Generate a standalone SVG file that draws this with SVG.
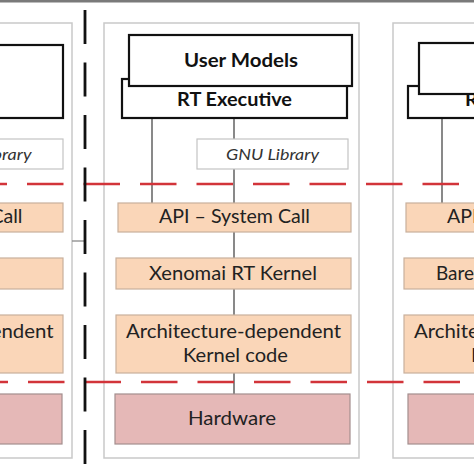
<svg xmlns="http://www.w3.org/2000/svg" width="474" height="474" viewBox="0 0 474 474">
<style>
.panel{fill:#fff;stroke:#c9c9c9;stroke-width:1.5}
.thick{fill:#fff;stroke:#111;stroke-width:2.2}
.lib{fill:#fff;stroke:#c4c4c4;stroke-width:1.2}
.sw{fill:#fad6b8;stroke:#c8b09c;stroke-width:1.2}
.hw{fill:#e5b8b7;stroke:#a38e8e;stroke-width:1.2}
.conn{stroke:#4a4a4a;stroke-width:1.3;fill:none}
.red{stroke:#d2343a;stroke-width:2.6;stroke-dasharray:36.5 20;fill:none}
.blk{stroke:#111;stroke-width:2.8;stroke-dasharray:34 18.5;fill:none}
text{font-family:Lato,"Liberation Sans",Arial,sans-serif;fill:#222;text-anchor:middle}
.b{font-weight:bold;font-size:18px;fill:#111}
.n{font-size:19px}
.i{font-style:italic;font-size:15px;fill:#333}
</style>
<rect x="0" y="0" width="474" height="474" fill="#fff"/>
<g id="panels">
<rect class="panel" x="-20" y="23" width="92" height="435"/>
<rect class="panel" x="104" y="23" width="255" height="435"/>
<rect class="panel" x="393" y="23" width="100" height="435"/>
</g>
<g id="connectors">
<line class="conn" x1="152" y1="118" x2="152" y2="203"/>
<line class="conn" x1="234" y1="118" x2="234" y2="394"/>
<line class="conn" x1="442" y1="118" x2="442" y2="203"/>
<line x1="72" y1="241" x2="85" y2="241" stroke="#8a8a8a" stroke-width="1.3"/>
</g>
<g id="left-top"><rect class="thick" x="-30" y="45" width="93" height="73"/></g>
<g id="left-gnu"><rect class="lib" x="-90" y="139" width="153" height="30"/><text class="i" x="-15" y="160" textLength="93" lengthAdjust="spacingAndGlyphs">GNU Library</text></g>
<g id="left-api"><rect class="sw" x="-170" y="203" width="233" height="29"/><text class="n" x="-53" y="223" textLength="151" lengthAdjust="spacingAndGlyphs">API – System Call</text></g>
<g id="left-kernel"><rect class="sw" x="-170" y="258" width="233" height="31"/></g>
<g id="left-arch"><rect class="sw" x="-170" y="315" width="233" height="58"/><text class="n" x="-54" y="338" textLength="215" lengthAdjust="spacingAndGlyphs">Architecture-dependent</text></g>
<g id="left-hw"><rect class="hw" x="-170" y="394" width="232" height="50"/></g>
<g id="rt-executive"><rect class="thick" x="122" y="79" width="225" height="39"/><text class="b" x="234.5" y="106" textLength="115" lengthAdjust="spacingAndGlyphs">RT Executive</text></g>
<g id="user-models"><rect class="thick" x="129" y="35" width="223" height="51"/><text class="b" x="241" y="67" textLength="114" lengthAdjust="spacingAndGlyphs">User Models</text></g>
<g id="gnu-library"><rect class="lib" x="197" y="139" width="151" height="30"/><text class="i" x="272.5" y="160" textLength="93" lengthAdjust="spacingAndGlyphs">GNU Library</text></g>
<g id="api-system-call"><rect class="sw" x="118" y="203" width="233" height="29"/><text class="n" x="234.5" y="223" textLength="151" lengthAdjust="spacingAndGlyphs">API – System Call</text></g>
<g id="xenomai"><rect class="sw" x="116" y="258" width="235" height="31"/><text class="n" x="233" y="280" textLength="168" lengthAdjust="spacingAndGlyphs">Xenomai RT Kernel</text></g>
<g id="arch"><rect class="sw" x="116" y="315" width="235" height="58"/><text class="n" x="233.5" y="338" textLength="215" lengthAdjust="spacingAndGlyphs">Architecture-dependent</text><text class="n" x="235.5" y="362" textLength="105" lengthAdjust="spacingAndGlyphs">Kernel code</text></g>
<g id="hardware"><rect class="hw" x="115" y="394" width="235" height="50"/><text class="n" x="232" y="425" textLength="88" lengthAdjust="spacingAndGlyphs">Hardware</text></g>
<g id="right-rt"><rect class="thick" x="408" y="86" width="100" height="32"/><text class="b" x="522.5" y="106" textLength="115" lengthAdjust="spacingAndGlyphs">RT Executive</text></g>
<g id="right-top"><rect class="thick" x="419" y="43" width="90" height="51"/></g>
<g id="right-api"><rect class="sw" x="406" y="203" width="90" height="29"/><text class="n" x="522.5" y="223" textLength="151" lengthAdjust="spacingAndGlyphs">API – System Call</text></g>
<g id="right-kernel"><rect class="sw" x="404" y="258" width="90" height="31"/><text class="n" x="455" y="280" textLength="38" lengthAdjust="spacingAndGlyphs">Bare</text></g>
<g id="right-arch"><rect class="sw" x="404" y="315" width="90" height="58"/><text class="n" x="521.5" y="338" textLength="215" lengthAdjust="spacingAndGlyphs">Architecture-dependent</text><text class="n" x="523.5" y="362" textLength="105" lengthAdjust="spacingAndGlyphs">Kernel code</text></g>
<g id="right-hw"><rect class="hw" x="408" y="394" width="90" height="50"/></g>
<g id="separators">
<line class="red" x1="-29.5" y1="184" x2="474" y2="184"/>
<line class="red" x1="-28.5" y1="382" x2="474" y2="382"/>
<line class="blk" x1="85" y1="10" x2="85" y2="466"/>
</g>
<rect x="0" y="0" width="474" height="2.5" fill="#7a7a7a"/>
</svg>
